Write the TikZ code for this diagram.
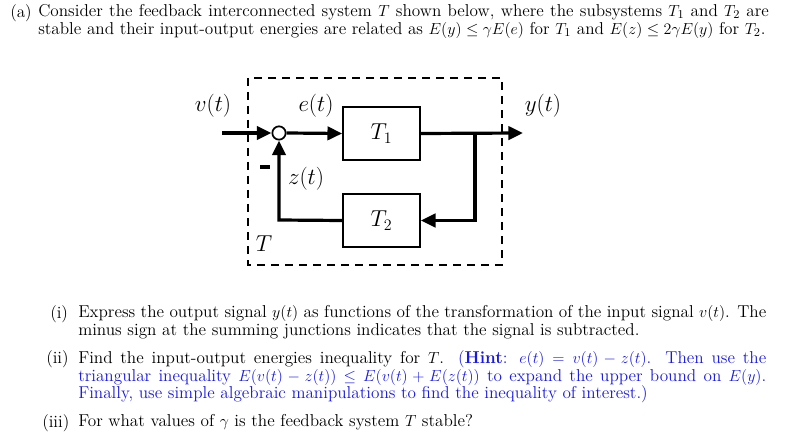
\documentclass[tikz,border=0pt]{standalone}
\usepackage{amsmath}
\usetikzlibrary{arrows.meta}
\definecolor{hint}{RGB}{25,25,225}
\begin{document}
\begin{tikzpicture}[x=0.75pt,y=-0.75pt,
  txt/.style={anchor=north west,inner sep=0pt,align=justify,font=\fontsize{12.9}{13.4}\selectfont},
  blk/.style={draw,line width=1.3pt,minimum width=57.75pt,minimum height=39.75pt,inner sep=0pt,font=\fontsize{18}{18}\selectfont},
  sig/.style={line width=2.4pt,-{Triangle[length=11pt,width=10pt]}},
  lab/.style={font=\fontsize{18}{18}\selectfont,inner sep=0pt}]
\useasboundingbox (0,0) rectangle (803,442);
% paragraph (a)
\node[txt] (pa) at (10,4) {(a)};
\node[txt,text width=548pt] (a) at (38,4) {Consider the feedback interconnected system $T$ shown below, where the subsystems $T_1$ and $T_2$ are stable and their input-output energies are related as $E(y)\le\gamma E(e)$ for $T_1$ and $E(z)\le 2\gamma E(y)$ for $T_2$.};
% diagram
\draw[dash pattern=on 6pt off 4.5pt,line width=1.5pt] (248,78) rectangle (502,265);
\coordinate (in) at (222,133);
\node[circle,draw,line width=1.3pt,minimum size=10pt,inner sep=0pt] (s) at (279,133) {};
\node[blk] (t1) at (381.5,133.5) {$T_1$};
\node[blk] (t2) at (381.5,220.5) {$T_2$};
\coordinate (br) at (475,133);
\coordinate (out) at (523,133);
\coordinate (fb) at (279,220);
\draw[sig] (in) -- (s.west);
\draw[sig] (s.east) -- (t1.west);
\draw[sig] (t1.east) -- (out);
\draw[sig] (br) |- (t2.east);
\draw[sig] (t2.west) -- (fb) -- (s.south);
\node[draw,fill,minimum width=7pt,minimum height=2.5pt,inner sep=0pt] (m) at (265,167) {};
\node[lab] (v) at (213,106) {$v(t)$};
\node[lab] (e) at (316,106) {$e(t)$};
\node[lab] (y) at (543,106) {$y(t)$};
\node[lab] (z) at (306,179) {$z(t)$};
\node[lab] (T) at (264,244) {$T$};
% items
\node[txt] (li) at (50,305) {(i)};
\node[txt,text width=516pt] (i) at (78,305) {Express the output signal $y(t)$ as functions of the transformation of the input signal $v(t)$. The minus sign at the summing junctions indicates that the signal is subtracted.};
\node[txt] (lii) at (46,350) {(ii)};
\node[txt,text width=516pt] (ii) at (78,350) {Find the input-output energies inequality for $T$. {\color{hint}(\textbf{Hint}: $e(t)=v(t)-z(t)$. Then use the triangular inequality $E(v(t)-z(t))\le E(v(t)+E(z(t))$ to expand the upper bound on $E(y)$. Finally, use simple algebraic manipulations to find the inequality of interest.)}};
\node[txt] (liii) at (42,414) {(iii)};
\node[txt,text width=516pt] (iii) at (78,414) {For what values of $\gamma$ is the feedback system $T$ stable?};
\end{tikzpicture}
\end{document}
